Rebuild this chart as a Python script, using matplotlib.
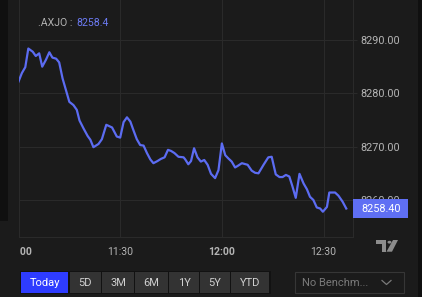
import matplotlib
matplotlib.use("Agg")
import matplotlib.pyplot as plt
from matplotlib.patches import Rectangle, Polygon, Circle
from matplotlib.transforms import Bbox, TransformedBbox, blended_transform_factory

# ---- data (minutes after 11:00, index value) ----
minutes = [0, 1.0, 2.0, 2.9, 4.2, 5.1, 6.1, 7.0, 8.1, 9.1, 10.0, 11.1, 12.0, 13.0, 14.0,
           15.0, 16.2, 17.2, 18.0, 19.2, 20.4, 21.2, 22.1, 23.6, 24.6, 25.9, 27.6, 29.0,
           30.0, 31.0, 32.0, 33.0, 33.9, 34.9, 35.9, 36.9, 37.9, 38.9, 39.8, 41.0, 42.0,
           43.1, 44.1, 45.0, 46.0, 47.2, 48.7, 49.2, 50.1, 50.9, 51.8, 52.8, 53.8, 54.8,
           55.8, 56.8, 58.0, 59.0, 60.0, 61.0, 61.9, 62.9, 63.9, 64.7, 65.9, 67.6, 68.8,
           69.8, 70.8, 72.3, 73.7, 74.7, 75.9, 77.0, 77.9, 78.9, 79.9, 80.8, 81.8, 82.9,
           84.1, 85.1, 86.0, 87.0, 88.0, 89.0, 89.8, 91.0, 91.7, 93.4, 94.4, 95.6, 96.7]
values = [8282.2, 8283.8, 8284.9, 8288.4, 8287.8, 8287.0, 8287.5, 8285.0, 8286.3, 8287.7,
          8286.7, 8286.5, 8285.8, 8282.8, 8280.6, 8278.4, 8277.8, 8276.9, 8274.9, 8273.4,
          8272.0, 8271.3, 8269.9, 8270.5, 8271.4, 8274.1, 8273.6, 8271.9, 8271.7, 8274.6,
          8275.5, 8274.7, 8273.1, 8271.4, 8270.3, 8270.2, 8268.8, 8267.6, 8266.9, 8267.3,
          8267.7, 8268.0, 8269.4, 8269.2, 8268.8, 8268.1, 8268.0, 8267.6, 8266.7, 8267.3,
          8269.7, 8268.0, 8267.2, 8267.5, 8266.6, 8264.9, 8264.1, 8265.6, 8270.6, 8268.4,
          8267.8, 8267.2, 8266.1, 8266.4, 8266.9, 8266.6, 8265.5, 8265.1, 8265.0, 8266.6,
          8268.0, 8268.1, 8264.8, 8264.3, 8264.3, 8264.7, 8264.4, 8262.6, 8260.4, 8264.9,
          8263.1, 8262.0, 8260.6, 8260.0, 8258.6, 8258.4, 8257.8, 8258.7, 8261.4, 8261.4,
          8260.8, 8259.7, 8258.4]
symbol = ".AXJO"
last_value = 8258.4
x_tick_pos = [0, 30, 60, 90]
x_tick_labels = ["11:00", "11:30", "12:00", "12:30"]
y_ticks = [8260, 8270, 8280, 8290]
range_buttons = ["Today", "5D", "3M", "6M", "1Y", "5Y", "YTD"]
benchmark_label = "No Benchm..."

# ---- style ----
W, H = 422, 297
BG = "#1b1b1b"
GRID = "#2a2a2a"
LINE = "#5c6cf2"
TXT = "#b4b4b4"
FONT = "Roboto"

fig = plt.figure(figsize=(W / 100, H / 100), dpi=100, facecolor=BG)


def fx(px):
    return px / W


def fy(py):
    return 1 - py / H


# dark strips
fig.add_artist(Rectangle((0, fy(221)), fx(8), 221 / H, transform=fig.transFigure,
                         facecolor="#101010", edgecolor="none"))
fig.add_artist(Rectangle((fx(418), 0), fx(4), 1, transform=fig.transFigure,
                         facecolor="#101010", edgecolor="none"))

ax_left, ax_right, ax_top, ax_bottom = 18.5, 352.7, 0, 237
ax = fig.add_axes([fx(ax_left), fy(ax_bottom), fx(ax_right - ax_left), (ax_bottom - ax_top) / H])
ax.set_facecolor(BG)
ax.plot(minutes, values, color=LINE, lw=1.6, solid_joinstyle="round", zorder=3)

ax.set_xlim(0, 98.6)
ax.set_ylim(8253.06, 8297.5)
ax.set_xticks(x_tick_pos)
ax.set_xticklabels(x_tick_labels)
ax.set_yticks(y_ticks)
ax.set_yticklabels([f"{v:.2f}" for v in y_ticks])
ax.yaxis.tick_right()
ax.tick_params(axis="y", length=3, color=GRID, pad=2.8, labelsize=7.8, labelcolor=TXT)
ax.tick_params(axis="x", length=0, pad=7, labelsize=7.6, labelcolor=TXT)
for lab in ax.get_xticklabels() + ax.get_yticklabels():
    lab.set_family(FONT)
ax.grid(True, color=GRID, lw=0.8)
for s in ["left", "right", "bottom"]:
    ax.spines[s].set_color(GRID)
    ax.spines[s].set_linewidth(0.8)
ax.spines["top"].set_visible(False)

ticks = ax.xaxis.get_major_ticks()
for i, t in enumerate(ticks):
    if x_tick_labels[i].endswith(":00"):
        t.label1.set_fontweight("bold")
clipbox = TransformedBbox(Bbox([[fx(19.6), 0], [1, 1]]), fig.transFigure)
ticks[0].label1.set_clip_on(True)
ticks[0].label1.set_clip_box(clipbox)

# title
fig.text(fx(38.3), fy(23.3), f"{symbol} :", color=TXT, fontsize=7.6, family=FONT, va="center")
fig.text(fx(76), fy(23.3), f"{last_value}", color="#6c7bf3", fontsize=7.6, family=FONT, va="center")

# price label on right axis
bt = blended_transform_factory(fig.transFigure, ax.transData)
box_h = 18.3 / 5.333
rect = Rectangle((fx(352.7), last_value - box_h / 2), fx(55), box_h, transform=bt,
                 facecolor="#5f6ff4", edgecolor="none", clip_on=False, zorder=5)
fig.add_artist(rect)
fig.add_artist(plt.Line2D([fx(354), fx(357.5)], [last_value, last_value], transform=bt,
                          color="white", lw=1))
fig.text(fx(361), last_value, f"{last_value:.2f}", transform=bt, color="white", fontsize=7.8,
         family=FONT, va="center", zorder=6)

# TradingView logo (simple shapes)
logo_c = "#8c8c8c"
fig.add_artist(Polygon([(fx(376), fy(240)), (fx(386), fy(240)), (fx(386), fy(251.7)),
                        (fx(381.5), fy(251.7)), (fx(381.5), fy(243.5)), (fx(376), fy(243.5))],
                       closed=True, transform=fig.transFigure, facecolor=logo_c, edgecolor="none"))
fig.add_artist(Circle((fx(389.5), fy(242.2)), fx(2.0), transform=fig.transFigure,
                      facecolor=logo_c, edgecolor="none"))
fig.add_artist(Polygon([(fx(386.5), fy(251.7)), (fx(393), fy(240)), (fx(398), fy(240)),
                        (fx(392), fy(251.7))], closed=True, transform=fig.transFigure,
                       facecolor=logo_c, edgecolor="none"))

# range buttons
edges = [20.7, 69, 101.7, 134.3, 168.7, 199.3, 230.7, 270]
by0, by1 = 271.7, 293.3
fig.add_artist(Rectangle((fx(20), fy(by1 + 0.7)), fx(250.7), (by1 - by0 + 1.4) / H,
                         transform=fig.transFigure, facecolor="#121212", edgecolor="none"))
for i, lab in enumerate(range_buttons):
    x0, x1 = edges[i], edges[i + 1]
    active = i == 0
    fc = "#2e3cff" if active else "#333333"
    fig.add_artist(Rectangle((fx(x0 + 0.6), fy(by1)), fx(x1 - x0 - 1.2), (by1 - by0) / H,
                             transform=fig.transFigure, facecolor=fc, edgecolor="none"))
    fig.text(fx((x0 + x1) / 2), fy((by0 + by1) / 2), lab, ha="center", va="center",
             color="white" if active else "#cfcfcf", fontsize=8, family=FONT)

# benchmark dropdown
fig.add_artist(Rectangle((fx(294.7), fy(293.3)), fx(109.3), 21.6 / H, transform=fig.transFigure,
                         facecolor=BG, edgecolor="#363636", lw=0.8))
fig.text(fx(302), fy(282.5), benchmark_label, ha="left", va="center", color="#7a7a7a",
         fontsize=8, family=FONT)
fig.add_artist(plt.Line2D([fx(382), fx(386.5), fx(391)], [fy(280.5), fy(284.5), fy(280.5)],
                          transform=fig.transFigure, color="#7a7a7a", lw=0.9))

fig.savefig("out.png", dpi=100, facecolor=BG)
